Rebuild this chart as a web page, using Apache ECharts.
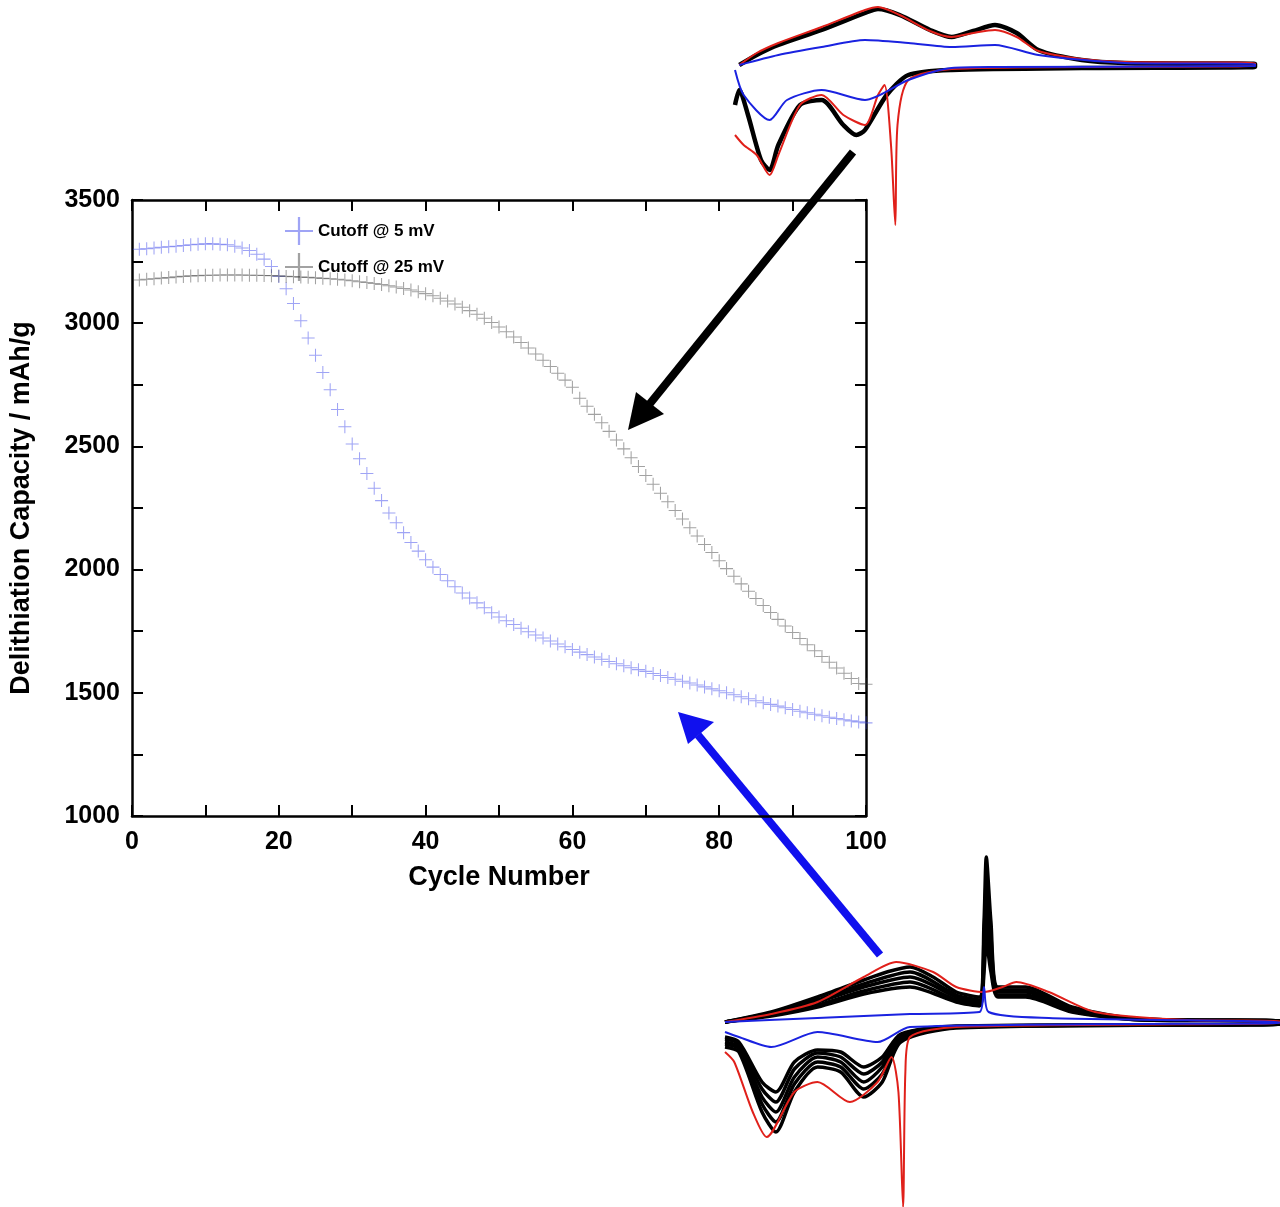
<!DOCTYPE html>
<html><head><meta charset="utf-8">
<script src="https://cdn.jsdelivr.net/npm/echarts@6/dist/echarts.min.js"></script>
<style>html,body{margin:0;padding:0;background:#fff}#c{width:1280px;height:1207px}</style>
</head><body><div id="c"></div>
<script>
// ---- main chart data ----
const cycles = Array.from({length:100},(_,i)=>i+1);
const cap5mV = [3300,3302,3305,3308,3310,3312,3315,3318,3320,3322,
3322,3320,3318,3312,3305,3295,3280,3260,3230,3190,
3140,3080,3010,2940,2870,2800,2730,2650,2580,2510,
2450,2390,2330,2280,2230,2190,2150,2110,2075,2040,
2010,1980,1955,1930,1905,1885,1865,1845,1825,1808,
1792,1777,1762,1748,1735,1722,1710,1698,1687,1676,
1665,1655,1645,1636,1627,1618,1610,1602,1594,1587,
1578,1570,1562,1555,1547,1540,1532,1524,1516,1508,
1500,1492,1484,1476,1468,1460,1453,1446,1439,1432,
1425,1419,1413,1407,1401,1396,1391,1386,1382,1378];
const cap25mV = [3175,3178,3180,3183,3185,3188,3190,3192,3193,3195,
3195,3196,3196,3196,3196,3195,3195,3194,3193,3192,
3190,3189,3187,3186,3184,3182,3180,3178,3175,3172,
3168,3165,3161,3157,3152,3147,3141,3135,3128,3120,
3111,3101,3090,3078,3065,3051,3036,3020,3003,2985,
2965,2944,2922,2899,2875,2850,2824,2797,2769,2740,
2695,2663,2630,2596,2561,2526,2490,2454,2418,2382,
2346,2310,2275,2240,2205,2170,2136,2102,2069,2036,
2004,1973,1942,1912,1883,1854,1826,1798,1771,1745,
1720,1695,1671,1647,1624,1601,1579,1558,1538,1535];
const yLabelStep = 500;
const xLabelStep = 20;

// ---- inset CV data: [potential V, current a.u.] ----
const topBlack = [[0.01,0],[0.05,1.0],[0.1,2.0],[0.2,3.5],[0.3,5.2],[0.33,5.6],[0.38,5.0],[0.45,3.5],[0.5,2.8],[0.55,3.4],[0.6,4.0],[0.65,3.2],[0.7,1.5],[0.8,0.5],[0.9,0.2],[1.2,0.1],
[1.2,-0.2],[0.8,-0.3],[0.5,-0.5],[0.4,-1.0],[0.35,-3],[0.3,-6.5],[0.28,-7.0],[0.25,-6.0],[0.2,-3.5],[0.15,-4.0],[0.1,-8],[0.08,-10.5],[0.06,-9.5],[0.03,-5],[0.01,-2.5],[0.0,-4.0]];
const topRed = [[0.01,0],[0.05,1.2],[0.1,2.2],[0.2,3.8],[0.3,5.5],[0.33,5.8],[0.38,5.0],[0.45,3.4],[0.5,2.8],[0.55,3.2],[0.6,3.5],[0.65,2.8],[0.7,1.4],[0.8,0.6],[0.9,0.3],[1.2,0.2],
[1.2,-0.1],[0.8,-0.2],[0.5,-0.4],[0.4,-1.5],[0.375,-6],[0.37,-16],[0.36,-8],[0.345,-2],[0.33,-3],[0.3,-6],[0.25,-5],[0.2,-3],[0.15,-4],[0.1,-9],[0.08,-11],[0.05,-9],[0.02,-8],[0.0,-7]];
const topBlue = [[0.01,0],[0.1,1.0],[0.2,1.8],[0.3,2.5],[0.4,2.2],[0.5,1.8],[0.6,2.0],[0.7,1.0],[0.9,0.2],[1.2,0.1],
[1.2,-0.1],[0.6,-0.2],[0.5,-0.3],[0.4,-1.5],[0.3,-3.5],[0.2,-2.5],[0.12,-3.5],[0.08,-5.5],[0.02,-3],[0.0,-0.5]];
const botBlack1 = [[0,0],[0.1,1.0],[0.2,2.5],[0.3,4.2],[0.35,5],[0.4,5.5],[0.45,4.5],[0.5,3],[0.55,2.5],[0.56,10],[0.565,16.5],[0.575,10],[0.59,3.5],[0.65,3.5],[0.75,1.5],[0.9,0.3],[1.2,0.1],
[1.2,-0.2],[0.5,-0.6],[0.38,-2],[0.34,-6],[0.3,-7.5],[0.25,-5],[0.2,-4.5],[0.15,-7],[0.11,-11],[0.08,-9],[0.03,-3],[0,-2.5]];
const botBlack2 = [[0,0],[0.1,0.9],[0.2,2.2],[0.3,3.8],[0.4,5.0],[0.5,2.7],[0.55,2.2],[0.56,8.5],[0.565,14],[0.575,8.5],[0.59,3.2],[0.65,3.2],[0.75,1.3],[0.9,0.3],[1.2,0.1],
[1.2,-0.2],[0.5,-0.5],[0.38,-1.7],[0.34,-5.2],[0.3,-6.7],[0.25,-4.5],[0.2,-4],[0.15,-6.2],[0.11,-10],[0.08,-8.2],[0.03,-2.7],[0,-2.2]];
const botBlack3 = [[0,0],[0.1,0.8],[0.2,2.0],[0.3,3.5],[0.4,4.5],[0.5,2.5],[0.55,2.0],[0.56,7],[0.565,12],[0.575,7],[0.59,3],[0.65,3],[0.75,1.2],[0.9,0.3],[1.2,0.1],
[1.2,-0.2],[0.5,-0.5],[0.38,-1.5],[0.34,-4.5],[0.3,-6],[0.25,-4],[0.2,-3.5],[0.15,-5.5],[0.11,-9],[0.08,-7.5],[0.03,-2.5],[0,-2]];
const botBlack4 = [[0,0],[0.1,0.7],[0.2,1.7],[0.3,3.1],[0.4,4.0],[0.5,2.2],[0.55,1.8],[0.56,6],[0.565,10],[0.575,6],[0.59,2.7],[0.65,2.7],[0.75,1.1],[0.9,0.2],[1.2,0.1],
[1.2,-0.2],[0.5,-0.45],[0.38,-1.3],[0.34,-4],[0.3,-5.2],[0.25,-3.5],[0.2,-3.1],[0.15,-4.7],[0.11,-8],[0.08,-6.7],[0.03,-2.2],[0,-1.7]];
const botBlack5 = [[0,0],[0.1,0.6],[0.2,1.5],[0.3,2.8],[0.4,3.5],[0.5,2],[0.55,1.6],[0.56,5],[0.565,8],[0.575,5],[0.59,2.5],[0.65,2.5],[0.75,1.0],[0.9,0.2],[1.2,0.1],
[1.2,-0.2],[0.5,-0.4],[0.38,-1.2],[0.34,-3.5],[0.3,-4.5],[0.25,-3],[0.2,-2.8],[0.15,-4],[0.11,-7],[0.08,-6],[0.03,-2],[0,-1.5]];
const botRed = [[0,0],[0.1,0.8],[0.2,2],[0.3,4.5],[0.37,6],[0.45,5],[0.5,3.5],[0.56,3.0],[0.6,3.5],[0.63,4.0],[0.7,3.0],[0.8,1],[1.0,0.2],[1.2,0.1],
[1.2,-0.1],[0.5,-0.5],[0.4,-1.5],[0.39,-5],[0.385,-18.5],[0.375,-7],[0.36,-3.5],[0.33,-6],[0.27,-8],[0.2,-6],[0.15,-7],[0.09,-11.5],[0.06,-9],[0.02,-4],[0,-3]];
const botBlue = [[0,0],[0.2,0.4],[0.4,0.8],[0.55,1],[0.56,3.5],[0.57,1],[0.7,0.4],[1.2,0],
[1.2,-0.1],[0.4,-0.5],[0.33,-2],[0.2,-1],[0.1,-2.5],[0.03,-1.5],[0,-1]];

const plus = 'path://M0,4.6H10V5.4H0Z M4.6,0H5.4V10H4.6Z';
const F = 'Liberation Sans, Arial, sans-serif';
const chart = echarts.init(document.getElementById('c'));
const lab = {fontFamily:F,fontWeight:'bold',fontSize:25,color:'#000'};
const hidden = {show:false};
const inX = (g)=>({gridIndex:g,type:'value',min:0,max:1.2,show:false});
const tick = {inside:true,length:11,lineStyle:{color:'#000',width:2}};
const aline = {onZero:false,lineStyle:{color:'#000',width:2.5}};
function cv(data,color,xi,w){return {type:'line',xAxisIndex:xi,yAxisIndex:xi,data,showSymbol:false,smooth:0.25,lineStyle:{color,width:w},silent:true,z:w>2?2:3};}
chart.setOption({
  animation:false,
  grid:[{left:127,width:739,top:200,height:616,show:false},
        {left:735,width:520,top:5,height:220},
        {left:725,width:555,top:850,height:357}],
  legend:{left:280,top:212,orient:'vertical',itemGap:8,itemWidth:28,itemHeight:28,
    textStyle:{fontFamily:F,fontWeight:'bold',fontSize:17,color:'#000'},
    data:['Cutoff @ 5 mV','Cutoff @ 25 mV']},
  xAxis:[
   {gridIndex:0,type:'value',min:0,max:100,interval:10,position:'bottom',offset:0,name:'Cycle Number',nameLocation:'middle',nameGap:48,
    nameTextStyle:{fontFamily:F,fontWeight:'bold',fontSize:27,color:'#000'},
    axisLine:aline,axisTick:tick,
    axisLabel:{...lab,margin:14,formatter:v=>v%xLabelStep===0?String(v):''},splitLine:hidden},
   {gridIndex:0,type:'value',min:0,max:100,interval:10,position:'top',offset:0,
    axisLine:aline,axisTick:tick,axisLabel:hidden,splitLine:hidden},
   inX(1),inX(2)],
  yAxis:[
   {gridIndex:0,type:'value',min:1000,max:3500,interval:250,position:'left',offset:0,name:'Delithiation Capacity / mAh/g',nameLocation:'middle',nameGap:97,
    nameTextStyle:{fontFamily:F,fontWeight:'bold',fontSize:27,color:'#000'},
    axisLine:aline,axisTick:tick,
    axisLabel:{...lab,margin:12,formatter:v=>v%yLabelStep===0?String(v):''},splitLine:hidden},
   {gridIndex:0,type:'value',min:1000,max:3500,interval:250,position:'right',offset:0,
    axisLine:aline,axisTick:tick,axisLabel:hidden,splitLine:hidden},
   {gridIndex:1,type:'value',min:-16,max:6,show:false},
   {gridIndex:2,type:'value',min:-18.5,max:17.2,show:false}],
  series:[
   {name:'Cutoff @ 5 mV',type:'scatter',xAxisIndex:0,yAxisIndex:0,symbol:plus,symbolSize:13,
    itemStyle:{color:'rgba(70,80,235,0.65)'},data:cycles.map((c,i)=>[c,cap5mV[i]])},
   {name:'Cutoff @ 25 mV',type:'scatter',xAxisIndex:0,yAxisIndex:0,symbol:plus,symbolSize:13,
    itemStyle:{color:'rgba(60,60,60,0.6)'},data:cycles.map((c,i)=>[c,cap25mV[i]])},
   {...cv(topBlack,'#000',2,4.5),xAxisIndex:2,yAxisIndex:2},
   {...cv(topRed,'#e0201a',2,2),xAxisIndex:2,yAxisIndex:2},
   {...cv(topBlue,'#1a22e0',2,2),xAxisIndex:2,yAxisIndex:2},
   {...cv(botBlack1,'#000',3,3.5),xAxisIndex:3,yAxisIndex:3},
   {...cv(botBlack2,'#000',3,3.5),xAxisIndex:3,yAxisIndex:3},
   {...cv(botBlack3,'#000',3,3.5),xAxisIndex:3,yAxisIndex:3},
   {...cv(botBlack4,'#000',3,3.5),xAxisIndex:3,yAxisIndex:3},
   {...cv(botBlack5,'#000',3,3.5),xAxisIndex:3,yAxisIndex:3},
   {...cv(botRed,'#e0201a',3,2),xAxisIndex:3,yAxisIndex:3},
   {...cv(botBlue,'#1a22e0',3,2),xAxisIndex:3,yAxisIndex:3}
  ],
  graphic:[
   {type:'line',shape:{x1:853,y1:152,x2:648,y2:406},style:{stroke:'#000',lineWidth:8}},
   {type:'polygon',shape:{points:[[628,430],[636,392],[664,414]]},style:{fill:'#000'}},
   {type:'line',shape:{x1:880,y1:955,x2:698,y2:735},style:{stroke:'#1010ee',lineWidth:8}},
   {type:'polygon',shape:{points:[[678,712],[714,722],[688,744]]},style:{fill:'#1010ee'}}
  ]
});
</script></body></html>
